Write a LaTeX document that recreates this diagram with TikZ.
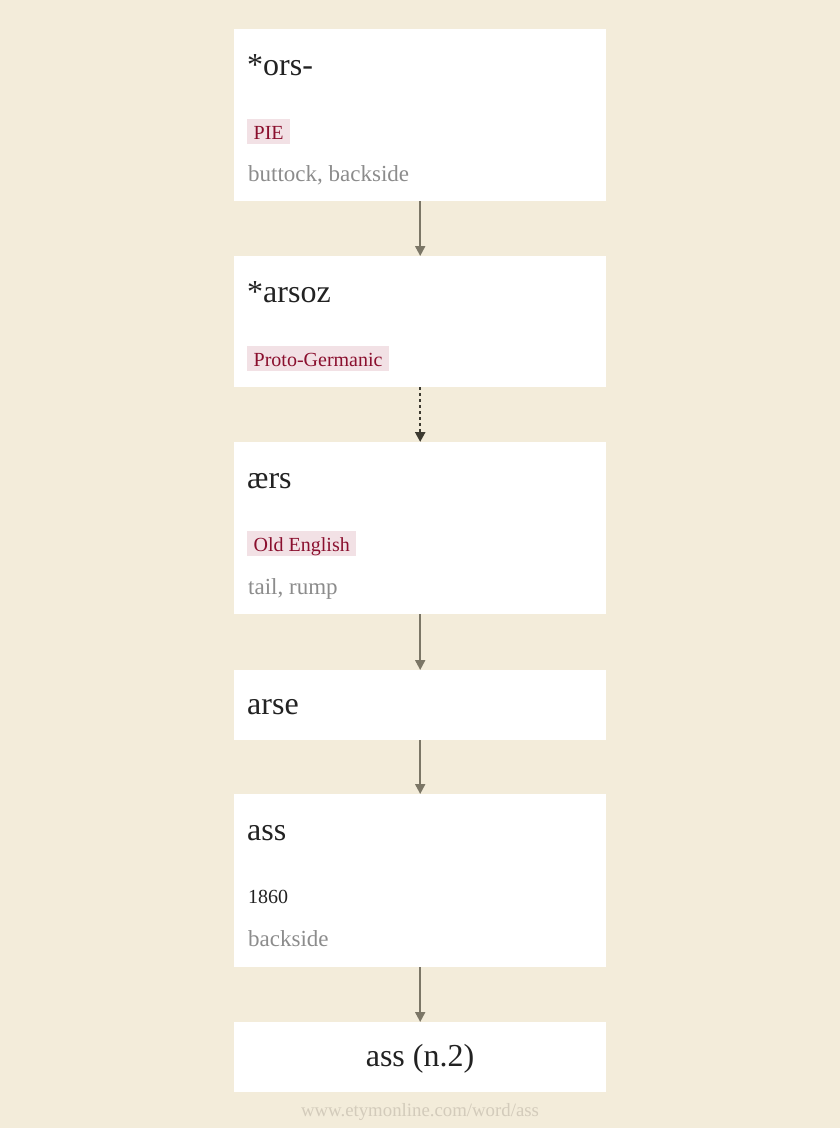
\documentclass[tikz,border=0pt]{standalone}
\usepackage{fontspec}
\setmainfont{Liberation Serif}
\usetikzlibrary{arrows.meta}
\definecolor{bg}{HTML}{F3ECDA}
\definecolor{tagbg}{HTML}{F2E1E5}
\definecolor{tagfg}{HTML}{8A0F2E}
\definecolor{glossc}{HTML}{8C8C8C}
\definecolor{arrowc}{HTML}{7B7666}
\definecolor{dotc}{HTML}{3C3A30}
\definecolor{footc}{HTML}{D3CBBB}
\definecolor{titlec}{HTML}{222222}
\begin{document}
\begin{tikzpicture}[x=1pt,y=-1pt,
  box/.style={fill=white, draw=none, inner sep=0pt, minimum width=372pt, anchor=north west},
  wordt/.style={anchor=base west, inner sep=0pt, font=\fontsize{32}{36}\selectfont, text=titlec},
  tagt/.style={anchor=base west, fill=tagbg, text=tagfg, inner xsep=6.5pt, inner ysep=0pt,
               text height=20pt, text depth=5pt, font=\fontsize{20}{22}\selectfont},
  glosst/.style={anchor=base west, inner sep=0pt, font=\fontsize{23}{26}\selectfont, text=glossc},
  datet/.style={anchor=base west, inner sep=0pt, font=\fontsize{20}{24}\selectfont, text=titlec},
  solidarrow/.style={draw=arrowc, line width=2pt, -{Triangle[length=10pt,width=10pt]}},
  dotarrow/.style={draw=dotc, line width=2.4pt, dash pattern=on 3pt off 3pt, -{Triangle[length=10pt,width=10pt]}}
]
\fill[bg] (0,0) rectangle (840,1128);
\useasboundingbox (0,0) rectangle (840,1128);

% boxes
\node[box, minimum height=172pt] (b1) at (234,29) {};
\node[box, minimum height=131pt] (b2) at (234,256) {};
\node[box, minimum height=172pt] (b3) at (234,442) {};
\node[box, minimum height=70pt] (b4) at (234,670) {};
\node[box, minimum height=173pt] (b5) at (234,794) {};
\node[box, minimum height=70pt] (b6) at (234,1022) {};

% box 1
\node[wordt] (w1) at (247,75) {*ors-};
\node[tagt] (t1) at (247,139) {PIE};
\node[glosst] (g1) at (248,181) {buttock, backside};
% box 2
\node[wordt] (w2) at (247,302) {*arsoz};
\node[tagt] (t2) at (247,366) {Proto-Germanic};
% box 3
\node[wordt] (w3) at (247,488) {ærs};
\node[tagt] (t3) at (247,551) {Old English};
\node[glosst] (g3) at (248,594) {tail, rump};
% box 4
\node[wordt] (w4) at (247,714) {arse};
% box 5
\node[wordt] (w5) at (247,840) {ass};
\node[datet] (d5) at (248,903) {1860};
\node[glosst] (g5) at (248,946) {backside};
% box 6
\node[wordt, anchor=base] (w6) at (420,1066) {ass (n.2)};

% footer
\node[anchor=base, inner sep=0pt, font=\fontsize{18.8}{22}\selectfont, text=footc] (foot) at (420,1116) {www.etymonline.com/word/ass};

% connectors
\draw[solidarrow] (b1.south) -- (b2.north);
\draw[dotarrow] (b2.south) -- (b3.north);
\draw[solidarrow] (b3.south) -- (b4.north);
\draw[solidarrow] (b4.south) -- (b5.north);
\draw[solidarrow] (b5.south) -- (b6.north);
\end{tikzpicture}
\end{document}
